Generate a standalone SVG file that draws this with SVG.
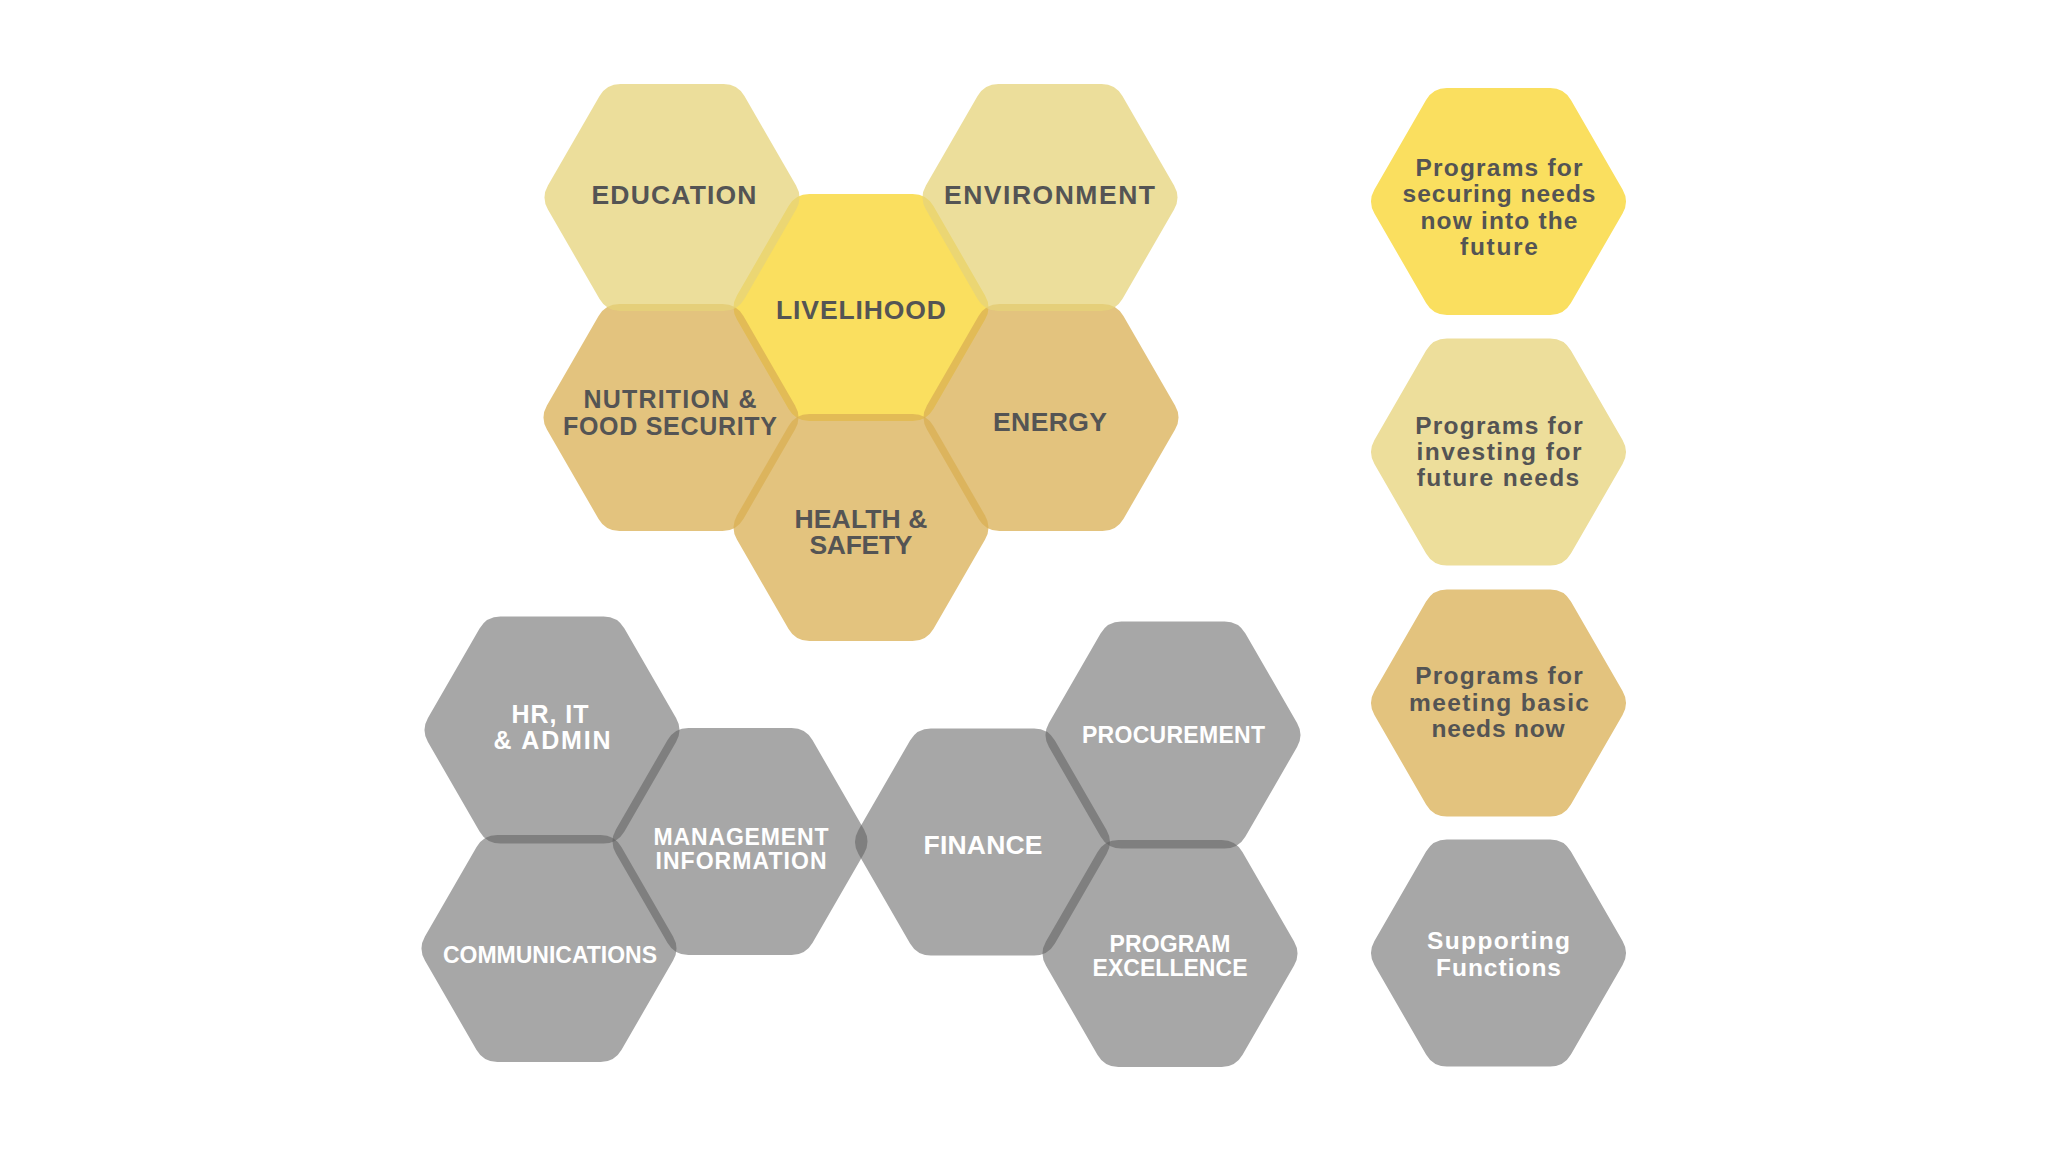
<svg xmlns="http://www.w3.org/2000/svg" xmlns:xlink="http://www.w3.org/1999/xlink" width="2048" height="1152" viewBox="0 0 2048 1152">
  <defs>
    <path id="hex" d="M -51.64,-113.5 L 51.64,-113.5 A 24 24 0 0 1 72.43,-101.5 L 124.07,-12 A 24 24 0 0 1 124.07,12 L 72.43,101.5 A 24 24 0 0 1 51.64,113.5 L -51.64,113.5 A 24 24 0 0 1 -72.43,101.5 L -124.07,12 A 24 24 0 0 1 -124.07,-12 L -72.43,-101.5 A 24 24 0 0 1 -51.64,-113.5 Z"/>
  </defs>
  <style>
    .yel { fill: #FADF5F; }
    .pale { fill: #E6D37A; fill-opacity: 0.75; }
    .tan { fill: #DAAF53; fill-opacity: 0.75; }
    .gry { fill: #5F5F5F; fill-opacity: 0.55; }
    .l1 { fill: #FADF5F; }
    .l2 { fill: #EDDE9B; }
    .l3 { fill: #E3C37E; }
    .l4 { fill: #A7A7A7; }
    .t { font-family: "Liberation Sans", Arial, sans-serif; font-weight: 700; text-anchor: middle; }
    .d { fill: #545454; }
    .w { fill: #FFFFFF; }
    .f26 { font-size: 26.5px; }
    .f25 { font-size: 25px; }
    .f23 { font-size: 23px; }
    .f24 { font-size: 24.5px; }
  </style>
  <rect x="0" y="0" width="2048" height="1152" fill="#FFFFFF"/>

  <!-- Program cluster -->
  <g id="livelihood">
    <use href="#hex" xlink:href="#hex" x="861" y="307.5" class="yel"/>
    <text class="t d f26" x="861" y="318.5" textLength="170" lengthAdjust="spacing">LIVELIHOOD</text>
  </g>
  <g id="nutrition">
    <use href="#hex" xlink:href="#hex" x="671" y="417.5" class="tan"/>
    <text class="t d f25" x="670" y="407.5" textLength="173" lengthAdjust="spacing">NUTRITION &amp;</text>
    <text class="t d f25" x="670" y="434.5" textLength="214" lengthAdjust="spacing">FOOD SECURITY</text>
  </g>
  <g id="energy">
    <use href="#hex" xlink:href="#hex" x="1051" y="417.5" class="tan"/>
    <text class="t d f26" x="1050" y="430.5" textLength="114" lengthAdjust="spacing">ENERGY</text>
  </g>
  <g id="health">
    <use href="#hex" xlink:href="#hex" x="861" y="527.5" class="tan"/>
    <text class="t d f26" x="861" y="527.5" textLength="133" lengthAdjust="spacing">HEALTH &amp;</text>
    <text class="t d f26" x="861" y="553.5" textLength="103" lengthAdjust="spacing">SAFETY</text>
  </g>
  <g id="education">
    <use href="#hex" xlink:href="#hex" x="672" y="197.5" class="pale"/>
    <text class="t d f26" x="674" y="204" textLength="165" lengthAdjust="spacing">EDUCATION</text>
  </g>
  <g id="environment">
    <use href="#hex" xlink:href="#hex" x="1050" y="197.5" class="pale"/>
    <text class="t d f26" x="1049.5" y="204" textLength="211" lengthAdjust="spacing">ENVIRONMENT</text>
  </g>

  <!-- Supporting functions cluster -->
  <g id="hr-it-admin">
    <use href="#hex" xlink:href="#hex" x="552" y="730" class="gry"/>
    <text class="t w f25" x="550" y="723" textLength="77" lengthAdjust="spacing">HR, IT</text>
    <text class="t w f25" x="552" y="749" textLength="117" lengthAdjust="spacing">&amp; ADMIN</text>
  </g>
  <g id="communications">
    <use href="#hex" xlink:href="#hex" x="549" y="948.5" class="gry"/>
    <text class="t w f23" x="550" y="963" textLength="214" lengthAdjust="spacing">COMMUNICATIONS</text>
  </g>
  <g id="management-information">
    <use href="#hex" xlink:href="#hex" x="740" y="841.5" class="gry"/>
    <text class="t w f23" x="741" y="845" textLength="175" lengthAdjust="spacing">MANAGEMENT</text>
    <text class="t w f23" x="741" y="869" textLength="171" lengthAdjust="spacing">INFORMATION</text>
  </g>
  <g id="finance">
    <use href="#hex" xlink:href="#hex" x="982.5" y="842" class="gry"/>
    <text class="t w f26" x="983" y="854" textLength="119" lengthAdjust="spacing">FINANCE</text>
  </g>
  <g id="procurement">
    <use href="#hex" xlink:href="#hex" x="1173" y="735" class="gry"/>
    <text class="t w f23" x="1173.5" y="743" textLength="183" lengthAdjust="spacing">PROCUREMENT</text>
  </g>
  <g id="program-excellence">
    <use href="#hex" xlink:href="#hex" x="1170" y="953.5" class="gry"/>
    <text class="t w f23" x="1170" y="952" textLength="121" lengthAdjust="spacing">PROGRAM</text>
    <text class="t w f23" x="1170" y="976" textLength="155" lengthAdjust="spacing">EXCELLENCE</text>
  </g>

  <!-- Legend -->
  <g id="legend-securing">
    <use href="#hex" xlink:href="#hex" x="1498.5" y="201.5" class="l1"/>
    <text class="t d f24" x="1499" y="176" textLength="167" lengthAdjust="spacing">Programs for</text>
    <text class="t d f24" x="1499" y="202" textLength="193" lengthAdjust="spacing">securing needs</text>
    <text class="t d f24" x="1499" y="228.5" textLength="157" lengthAdjust="spacing">now into the</text>
    <text class="t d f24" x="1499" y="255" textLength="78" lengthAdjust="spacing">future</text>
  </g>
  <g id="legend-investing">
    <use href="#hex" xlink:href="#hex" x="1498.5" y="452" class="l2"/>
    <text class="t d f24" x="1499" y="433.5" textLength="167.5" lengthAdjust="spacing">Programs for</text>
    <text class="t d f24" x="1499" y="459.5" textLength="165" lengthAdjust="spacing">investing for</text>
    <text class="t d f24" x="1498" y="485.5" textLength="162.5" lengthAdjust="spacing">future needs</text>
  </g>
  <g id="legend-basic">
    <use href="#hex" xlink:href="#hex" x="1498.5" y="703" class="l3"/>
    <text class="t d f24" x="1499" y="684" textLength="167.5" lengthAdjust="spacing">Programs for</text>
    <text class="t d f24" x="1499" y="710.5" textLength="180" lengthAdjust="spacing">meeting basic</text>
    <text class="t d f24" x="1498" y="736.5" textLength="133" lengthAdjust="spacing">needs now</text>
  </g>
  <g id="legend-supporting">
    <use href="#hex" xlink:href="#hex" x="1498.5" y="953" class="l4"/>
    <text class="t w f24" x="1498.5" y="949" textLength="143" lengthAdjust="spacing">Supporting</text>
    <text class="t w f24" x="1498.5" y="976" textLength="125" lengthAdjust="spacing">Functions</text>
  </g>
</svg>
